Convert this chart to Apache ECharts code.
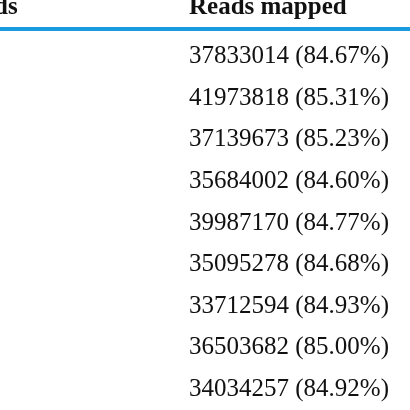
<!DOCTYPE html>
<html><head><meta charset="utf-8">
<script src="https://cdn.jsdelivr.net/npm/echarts@6/dist/echarts.min.js"></script>
<style>html,body{margin:0;padding:0;background:#fff}#c{width:410px;height:410px}</style>
</head><body><div id="c"></div>
<script>
const headers = ["ds", "Reads mapped"];
const rowIds = ["r1","r2","r3","r4","r5","r6","r7","r8","r9"];
const readsMapped = [37833014, 41973818, 37139673, 35684002, 39987170, 35095278, 33712594, 36503682, 34034257];
const percentMapped = ["84.67", "85.31", "85.23", "84.60", "84.77", "84.68", "84.93", "85.00", "84.92"];

const chart = echarts.init(document.getElementById('c'));
const font = 'Liberation Serif';
chart.setOption({
  animation: false,
  grid: {left: 0, right: 0, top: 36, bottom: -4},
  xAxis: {type: 'value', min: 0, max: 410, show: false},
  yAxis: {type: 'category', data: rowIds, inverse: true, show: false},
  series: [{
    type: 'scatter', symbolSize: 0, itemStyle: {opacity: 0},
    data: readsMapped.map((v, i) => [189, rowIds[i], v + ' (' + percentMapped[i] + '%)']),
    label: {show: true, position: 'right', distance: 0, formatter: p => p.data[2],
      color: '#111', opacity: 1, fontFamily: font, fontSize: 25}
  }],
  graphic: [
    {type: 'text', left: -6, top: -5, style: {text: headers[0], fontFamily: font, fontSize: 25, fontWeight: 'bold', fill: '#111'}},
    {type: 'text', left: 189, top: -5, style: {text: headers[1], fontFamily: font, fontSize: 25, fontWeight: 'bold', fill: '#111'}},
    {type: 'rect', shape: {x: 0, y: 27, width: 410, height: 4}, style: {fill: '#1a9be0'}}
  ]
});
</script></body></html>
